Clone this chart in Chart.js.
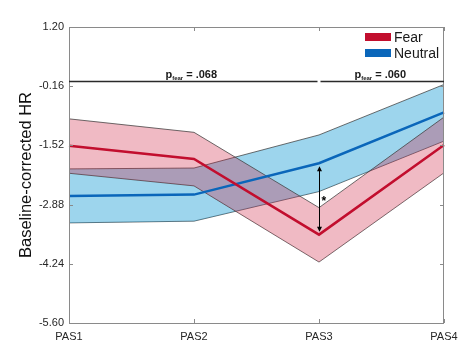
<!DOCTYPE html>
<html>
<head>
<meta charset="utf-8">
<script src="https://cdn.jsdelivr.net/npm/chart.js@4/dist/chart.umd.min.js"></script>
<style>
  html, body { margin: 0; padding: 0; background: #fff; }
  #wrap { width: 474px; height: 358px; }
</style>
</head>
<body>
<div id="wrap"><canvas id="chart-hr" width="474" height="358"></canvas></div>
<script>
// data
const categories = ["PAS1", "PAS2", "PAS3", "PAS4"];
const yTicks = [1.2, -0.16, -1.52, -2.88, -4.24, -5.6];

const fearMean = [-1.53, -1.83, -3.57, -1.51];
const fearUpper = [-0.91, -1.22, -2.95, -0.87];
const fearLower = [-2.16, -2.45, -4.2, -2.15];

const neutralMean = [-2.68, -2.65, -1.93, -0.76];
const neutralUpper = [-2.06, -2.04, -1.28, -0.12];
const neutralLower = [-3.3, -3.26, -2.58, -1.42];

// significance bars: from / to category index, p value text
const sigLevel = -0.03;
const sigBars = [
  { from: 0, to: 2, p: ".068" },
  { from: 2, to: 3, p: ".060" },
];
const arrowAt = 2; // PAS3, neutral vs fear

const FONT = "Arial, 'Liberation Sans', sans-serif";
const RED = "#C20E2E";
const BLUE = "#0A66BA";
const EDGE = "rgba(60,60,60,0.75)";

function bandEdge(label, data, fill, bg) {
  return {
    label: label,
    data: data,
    borderColor: EDGE,
    borderWidth: 1,
    pointRadius: 0,
    tension: 0,
    fill: fill,
    backgroundColor: bg,
  };
}

// frame + inward ticks
const framePlugin = {
  id: "frame",
  afterDatasetsDraw(chart) {
    const { ctx, chartArea: a, scales } = chart;
    ctx.save();
    ctx.strokeStyle = "#8a8a8a";
    ctx.lineWidth = 1;
    ctx.strokeRect(a.left + 0.5, a.top + 0.5, a.right - a.left - 1, a.bottom - a.top);
    ctx.beginPath();
    yTicks.forEach((v) => {
      const y = Math.round(scales.y.getPixelForValue(v)) + 0.5;
      ctx.moveTo(a.left, y); ctx.lineTo(a.left + 4, y);
      ctx.moveTo(a.right, y); ctx.lineTo(a.right - 4, y);
    });
    categories.forEach((c, i) => {
      const x = Math.round(scales.x.getPixelForValue(i)) + 0.5;
      ctx.moveTo(x, a.bottom); ctx.lineTo(x, a.bottom - 4);
      ctx.moveTo(x, a.top); ctx.lineTo(x, a.top + 4);
    });
    ctx.stroke();
    ctx.restore();
  },
};

// p-value bars, arrow, star, legend
const notesPlugin = {
  id: "notes",
  afterDatasetsDraw(chart) {
    const { ctx, chartArea: a, scales } = chart;
    const x = scales.x, y = scales.y;
    ctx.save();

    // p bars
    const yl = Math.round(y.getPixelForValue(sigLevel)) + 0.5;
    ctx.strokeStyle = "#2a2a2a";
    ctx.lineWidth = 1.5;
    sigBars.forEach((b) => {
      let x0 = x.getPixelForValue(b.from);
      let x1 = x.getPixelForValue(b.to);
      if (b.from > 0) x0 += 1.5;
      if (b.to < categories.length - 1) x1 -= 1.5;
      ctx.beginPath();
      ctx.moveTo(x0, yl); ctx.lineTo(x1, yl);
      ctx.stroke();

      const big = "bold 11px " + FONT, small = "bold 6px " + FONT;
      ctx.font = big; const wp = ctx.measureText("p").width;
      const wr = ctx.measureText(" = " + b.p).width;
      ctx.font = small; const ws = ctx.measureText("fear").width;
      let tx = (x0 + x1) / 2 - (wp + ws + wr) / 2 - 2;
      const ty = yl - 4;
      ctx.fillStyle = "#1a1a1a";
      ctx.textAlign = "left";
      ctx.textBaseline = "alphabetic";
      ctx.font = big; ctx.fillText("p", tx, ty); tx += wp;
      ctx.font = small; ctx.fillText("fear", tx, ty + 2); tx += ws;
      ctx.font = big; ctx.fillText(" = " + b.p, tx, ty);
    });

    // arrow between means
    const ax = Math.round(x.getPixelForValue(arrowAt)) + 0.5;
    const yTop = y.getPixelForValue(neutralMean[arrowAt]) + 3;
    const yBot = y.getPixelForValue(fearMean[arrowAt]) - 3;
    ctx.strokeStyle = "#000";
    ctx.fillStyle = "#000";
    ctx.lineWidth = 1;
    ctx.beginPath();
    ctx.moveTo(ax, yTop + 3); ctx.lineTo(ax, yBot - 3);
    ctx.stroke();
    ctx.beginPath();
    ctx.moveTo(ax, yTop); ctx.lineTo(ax - 2.5, yTop + 5); ctx.lineTo(ax + 2.5, yTop + 5); ctx.closePath();
    ctx.moveTo(ax, yBot); ctx.lineTo(ax - 2.5, yBot - 5); ctx.lineTo(ax + 2.5, yBot - 5); ctx.closePath();
    ctx.fill();
    ctx.font = "bold 12px " + FONT;
    ctx.textAlign = "left";
    ctx.textBaseline = "middle";
    ctx.fillText("*", ax + 2, (yTop + yBot) / 2 + 3);

    // legend
    const items = [
      { text: chart.data.datasets[0].label, color: RED },
      { text: chart.data.datasets[1].label, color: BLUE },
    ];
    ctx.font = "14px " + FONT;
    items.forEach((it, i) => {
      const ly = a.top + 10 + i * 16;
      ctx.fillStyle = it.color;
      ctx.fillRect(a.right - 79, ly - 4, 26, 8);
      ctx.fillStyle = "#1a1a1a";
      ctx.fillText(it.text, a.right - 50, ly + 1);
    });

    ctx.restore();
  },
};

const canvas = document.getElementById("chart-hr");
new Chart(canvas.getContext("2d"), {
  type: "line",
  data: {
    labels: categories,
    datasets: [
      { label: "Fear", data: fearMean, borderColor: RED, borderWidth: 2.5, pointRadius: 0, tension: 0, fill: false },
      { label: "Neutral", data: neutralMean, borderColor: BLUE, borderWidth: 2.5, pointRadius: 0, tension: 0, fill: false },
      bandEdge("Fear upper", fearUpper, 3, "rgba(205,25,60,0.3)"),
      bandEdge("Fear lower", fearLower, false, "transparent"),
      bandEdge("Neutral upper", neutralUpper, 5, "rgba(10,150,210,0.4)"),
      bandEdge("Neutral lower", neutralLower, false, "transparent"),
    ],
  },
  options: {
    responsive: false,
    animation: false,
    layout: { padding: { top: 27, right: 30, left: 0, bottom: 0 } },
    plugins: {
      legend: { display: false },
      tooltip: { enabled: false },
    },
    scales: {
      x: {
        type: "category",
        offset: false,
        grid: { display: false, drawTicks: false },
        border: { display: false },
        ticks: { color: "#262626", font: { family: FONT, size: 11 }, padding: 7, maxRotation: 0 },
        afterFit: (s) => { s.height = 35; },
      },
      y: {
        min: -5.6,
        max: 1.2,
        grid: { display: false, drawTicks: false },
        border: { display: false },
        afterBuildTicks: (s) => { s.ticks = yTicks.map((v) => ({ value: v })); },
        ticks: {
          color: "#262626",
          font: { family: FONT, size: 11 },
          padding: 5,
          callback: (v) => Number(v).toFixed(2),
        },
        title: {
          display: true,
          text: "Baseline-corrected HR",
          color: "#111",
          font: { family: FONT, size: 16.5 },
          padding: { top: 17, bottom: 0 },
        },
        afterFit: (s) => { s.width = 69; },
      },
    },
  },
  plugins: [framePlugin, notesPlugin],
});
</script>
</body>
</html>
